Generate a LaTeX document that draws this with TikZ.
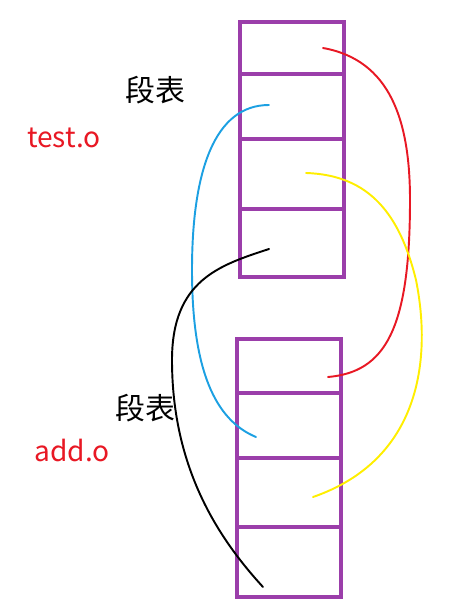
\documentclass[tikz,border=0pt]{standalone}
\usepackage{fontspec}
\newfontfamily\cjk{Noto Sans CJK SC}
\definecolor{segpurple}{RGB}{155,62,170}
\definecolor{inkred}{RGB}{232,24,36}
\definecolor{inkblue}{RGB}{28,160,226}
\definecolor{inkyellow}{RGB}{255,238,0}

\tikzset{
  cell/.style={draw=segpurple, line width=2.3pt, anchor=north west,
    inner sep=0pt, outer sep=0pt, minimum width=2.08cm},
  stroke/.style={line width=1.1pt, line cap=round},
  title/.style={font=\cjk\fontsize{17}{17}\selectfont},
  objname/.style={font=\cjk\fontsize{16}{16}\selectfont, text=inkred}
}

\begin{document}
\begin{tikzpicture}[x=0.02cm, y=-0.02cm]
  \useasboundingbox (0,0) rectangle (474,605);
  % segment table of test.o
  \node[cell, minimum height=1.04cm] (t1) at (240,22) {};
  \node[cell, minimum height=1.30cm] (t2) at (240,74) {};
  \node[cell, minimum height=1.40cm] (t3) at (240,139) {};
  \node[cell, minimum height=1.36cm] (t4) at (240,209) {};
  % segment table of add.o
  \node[cell, minimum height=1.08cm] (a1) at (237,339) {};
  \node[cell, minimum height=1.30cm] (a2) at (237,393) {};
  \node[cell, minimum height=1.38cm] (a3) at (237,458) {};
  \node[cell, minimum height=1.40cm] (a4) at (237,527) {};

  \node[title] (ttitle) at (155,90) {段表};
  \node[objname] (tname) at (64,138) {test.o};
  \node[title] (atitle) at (145,408) {段表};
  \node[objname] (aname) at (72,450) {add.o};

  % ends of the strokes
  \coordinate (r0) at (323,48);
  \coordinate (r1) at (328,377);
  \coordinate (y0) at (306,173);
  \coordinate (y1) at (313,497);
  \coordinate (b0) at (269,105);
  \coordinate (b1) at (256,437);
  \coordinate (k0) at (269,249);
  \coordinate (k1) at (263,587);

  \draw[stroke, inkred] (r0) .. controls (390,60) and (410,120) .. (410,200)
    .. controls (410,330) and (385,372) .. (r1);
  \draw[stroke, inkyellow] (y0) .. controls (370,175) and (400,215) .. (416,280)
    .. controls (432,360) and (420,460) .. (y1);
  \draw[stroke, inkblue] (b0) .. controls (215,105) and (192,170) .. (192,270)
    .. controls (192,370) and (215,420) .. (b1);
  \draw[stroke, black] (k0) .. controls (220,265) and (172,280) .. (172,360)
    .. controls (172,470) and (220,540) .. (k1);
\end{tikzpicture}
\end{document}
